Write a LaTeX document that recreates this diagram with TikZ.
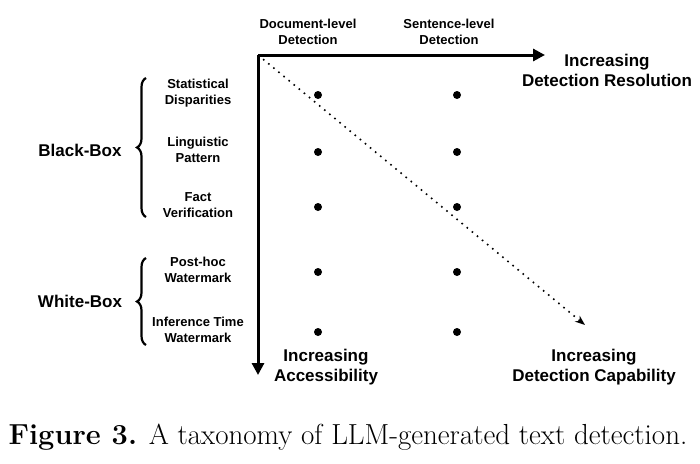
\documentclass[tikz,border=0pt]{standalone}
\usepackage{fontspec}
\setsansfont{Liberation Sans}
\usetikzlibrary{arrows.meta,decorations.pathreplacing}
\begin{document}
\begin{tikzpicture}[x=1pt,y=-1pt,
  lbl/.style={font=\sffamily\bfseries\fontsize{13}{15.5}\selectfont,align=center},
  big/.style={font=\sffamily\bfseries\fontsize{17}{20}\selectfont,align=center},
  dotm/.style={circle,fill=black,inner sep=0pt,minimum size=8pt},
  axis/.style={line width=3pt,-{Triangle[length=12pt,width=12pt]}},
  brc/.style={decorate,decoration={brace,amplitude=9pt},line width=2.2pt}]
\useasboundingbox (0,0) rectangle (700,463);
\coordinate (o) at (258,55);
\coordinate (xe) at (545,55);
\coordinate (ye) at (258,375);
\coordinate (de) at (585,325);
\draw[axis] (o) -- (xe);
\draw[axis] (o) -- (ye);
\draw[dash pattern=on 1.6pt off 5pt,line width=1.6pt,-{Stealth[length=10pt]}] (o) -- (de);
\node[lbl] (h1) at (308,32) {Document-level\\Detection};
\node[lbl] (h2) at (449,32) {Sentence-level\\Detection};
\node[big] (res) at (607,70) {Increasing\\Detection Resolution};
\node[big] (acc) at (326,367) {Increasing\\Accessibility};
\node[big] (cap) at (594,367) {Increasing\\Detection Capability};
\foreach \y/\t [count=\i] in {93/{Statistical\\Disparities},150/{Linguistic\\Pattern},205/{Fact\\Verification},270/{Post-hoc\\Watermark},330/{Inference Time\\Watermark}}{
  \node[lbl] (r\i) at (198,\y) {\t};
  \node[dotm] (a\i) at (318,\y+2) {};
  \node[dotm] (b\i) at (457,\y+2) {};
}
\draw[brc] (146,217) -- (146,78);
\draw[brc] (146,345) -- (146,258);
\node[big] (bb) at (80,150) {Black-Box};
\node[big] (wb) at (80,301) {White-Box};
\node[font=\fontsize{29}{33}\selectfont] (capt) at (348,437) {\textbf{Figure 3.} A taxonomy of LLM-generated text detection.};
\end{tikzpicture}
\end{document}
